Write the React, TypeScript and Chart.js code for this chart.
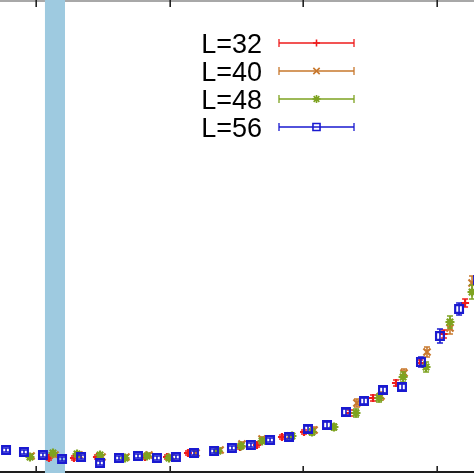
import React, { useEffect, useRef } from 'react';
import { Chart, registerables } from 'chart.js';

Chart.register(...registerables);

// ---- data ----
const seriesLabels = ['L=32', 'L=40', 'L=48', 'L=56'];
const seriesColors = ['#ee1c1c', '#c8782d', '#7ea320', '#1a1ad0'];

const xL32 = [0.097, 0.284, 0.456, 0.815, 0.98, 1.137, 1.526, 1.653, 1.84, 2.005, 2.349, 2.521, 2.693, 2.873, 3.052, 3.21];
const yL32 = [0.14, 0.14, 0.15, 0.15, 0.15, 0.19, 0.25, 0.27, 0.35, 0.4, 0.59, 0.74, 0.89, 1.09, 1.38, 1.69];
const eL32 = [0.02, 0.02, 0.02, 0.02, 0.02, 0.02, 0.02, 0.02, 0.02, 0.02, 0.03, 0.03, 0.03, 0.03, 0.04, 0.04];

const xL40 = [-0.037, 0.142, 0.322, 0.494, 0.673, 0.845, 1.01, 1.197, 1.377, 1.541, 1.691, 1.9, 2.08, 2.401, 2.581, 2.753, 2.925, 3.097, 3.262];
const yL40 = [0.16, 0.17, 0.17, 0.15, 0.15, 0.17, 0.15, 0.19, 0.22, 0.28, 0.33, 0.36, 0.42, 0.69, 0.76, 0.99, 1.2, 1.44, 1.89];
const eL40 = [0.02, 0.02, 0.02, 0.02, 0.02, 0.02, 0.02, 0.02, 0.02, 0.02, 0.02, 0.02, 0.03, 0.04, 0.04, 0.04, 0.05, 0.06, 0.07];

const xL48 = [-0.045, 0.127, 0.307, 0.479, 0.666, 0.83, 0.995, 1.362, 1.534, 1.691, 1.915, 2.065, 2.229, 2.394, 2.566, 2.746, 2.918, 3.097, 3.262];
const yL48 = [0.15, 0.19, 0.18, 0.17, 0.14, 0.16, 0.14, 0.21, 0.26, 0.31, 0.36, 0.4, 0.45, 0.59, 0.74, 0.95, 1.05, 1.5, 1.8];
const eL48 = [0.02, 0.02, 0.02, 0.02, 0.02, 0.02, 0.02, 0.02, 0.02, 0.02, 0.02, 0.03, 0.03, 0.04, 0.04, 0.05, 0.05, 0.06, 0.07];

const xL56 = [-0.224, -0.09, 0.052, 0.195, 0.337, 0.479, 0.621, 0.763, 0.905, 1.047, 1.182, 1.332, 1.466, 1.608, 1.751, 1.893, 2.035, 2.177, 2.319, 2.454, 2.596, 2.738, 2.88, 3.022, 3.165, 3.307];
const yL56 = [0.22, 0.2, 0.17, 0.13, 0.15, 0.09, 0.14, 0.16, 0.14, 0.15, 0.19, 0.21, 0.24, 0.27, 0.32, 0.35, 0.43, 0.47, 0.6, 0.71, 0.82, 0.85, 1.1, 1.36, 1.63, 1.92];
const eL56 = [0.02, 0.02, 0.02, 0.02, 0.02, 0.02, 0.02, 0.02, 0.02, 0.02, 0.02, 0.02, 0.02, 0.02, 0.02, 0.02, 0.03, 0.03, 0.03, 0.03, 0.03, 0.03, 0.05, 0.07, 0.06, 0.08];

const xTicks = [0, 1, 2, 3];
const bandRange = [0.067, 0.217];

const xMin = -0.2693;
const xMax = 3.2767;
const yMin = 0;
const yMax = 4.71;

const pointStyles = ['cross', 'crossRot', 'star', 'rect'];
const pointRadii = [4, 5, 4.5, 5.5];
const legendRadii = [3.5, 4.5, 4, 5];

function drawMarker(ctx: CanvasRenderingContext2D, style: string, x: number, y: number, r: number) {
  ctx.beginPath();
  if (style === 'cross' || style === 'star') {
    ctx.moveTo(x - r, y); ctx.lineTo(x + r, y);
    ctx.moveTo(x, y - r); ctx.lineTo(x, y + r);
  }
  if (style === 'crossRot' || style === 'star') {
    const o = r * Math.SQRT1_2;
    ctx.moveTo(x - o, y - o); ctx.lineTo(x + o, y + o);
    ctx.moveTo(x - o, y + o); ctx.lineTo(x + o, y - o);
  }
  if (style === 'rect') {
    const s = r * Math.SQRT1_2;
    ctx.rect(x - s, y - s, 2 * s, 2 * s);
  }
  ctx.stroke();
}

const framePlugin = {
  id: 'frame',
  beforeDatasetsDraw(chart: any) {
    const { ctx, chartArea, width } = chart;
    const xs = chart.scales.x;
    ctx.save();
    // borders
    ctx.fillStyle = '#a8a8a8';
    ctx.fillRect(0, 0, width, 2);
    ctx.fillStyle = '#1e1e1e';
    ctx.fillRect(0, chartArea.bottom - 1, width, 2);
    // ticks (inward, mirrored)
    ctx.strokeStyle = '#222';
    ctx.lineWidth = 1.6;
    xTicks.forEach((t) => {
      const px = Math.round(xs.getPixelForValue(t)) + 0.2;
      ctx.beginPath();
      ctx.moveTo(px, chartArea.bottom);
      ctx.lineTo(px, chartArea.bottom - 6);
      ctx.moveTo(px, 0);
      ctx.lineTo(px, chartArea.top + 6);
      ctx.stroke();
    });
    // band
    const b0 = xs.getPixelForValue(bandRange[0]);
    const b1 = xs.getPixelForValue(bandRange[1]);
    ctx.fillStyle = '#9ecae0';
    ctx.fillRect(b0, 0, b1 - b0, chartArea.bottom + 1);
    ctx.restore();
  },
};

const errorBarPlugin = {
  id: 'errbars',
  afterDatasetDraw(chart: any, args: any) {
    const ds = chart.data.datasets[args.index];
    const errs: number[] | undefined = ds.errors;
    if (!errs) return;
    const { ctx, chartArea } = chart;
    const xs = chart.scales.x;
    const ys = chart.scales.y;
    ctx.save();
    ctx.beginPath();
    ctx.rect(chartArea.left, chartArea.top, chartArea.right - chartArea.left, chartArea.bottom - chartArea.top);
    ctx.clip();
    ctx.strokeStyle = ds.borderColor;
    ctx.lineWidth = 1.6;
    ds.data.forEach((p: any, i: number) => {
      const px = xs.getPixelForValue(p.x);
      const y1 = ys.getPixelForValue(p.y - errs[i]);
      const y2 = ys.getPixelForValue(p.y + errs[i]);
      ctx.beginPath();
      ctx.moveTo(px, y1); ctx.lineTo(px, y2);
      ctx.moveTo(px - 3, y1); ctx.lineTo(px + 3, y1);
      ctx.moveTo(px - 3, y2); ctx.lineTo(px + 3, y2);
      ctx.stroke();
    });
    ctx.restore();
  },
};

const legendPlugin = {
  id: 'gpLegend',
  afterDraw(chart: any) {
    const { ctx } = chart;
    ctx.save();
    const rows = [43, 71, 99, 127];
    seriesLabels.forEach((label, i) => {
      const y = rows[i];
      ctx.fillStyle = '#000';
      ctx.font = '27px "Liberation Sans", Arial, sans-serif';
      ctx.textAlign = 'right';
      ctx.textBaseline = 'alphabetic';
      ctx.fillText(label, 262, y + 10);
      ctx.strokeStyle = seriesColors[i];
      ctx.lineWidth = 1.3;
      ctx.beginPath();
      ctx.moveTo(279, y); ctx.lineTo(354, y);
      ctx.moveTo(279, y - 4); ctx.lineTo(279, y + 4);
      ctx.moveTo(354, y - 4); ctx.lineTo(354, y + 4);
      ctx.stroke();
      ctx.lineWidth = 1.6;
      drawMarker(ctx, pointStyles[i], 316.5, y, legendRadii[i]);
    });
    ctx.restore();
  },
};

function makeData(xs: number[], ys: number[]) {
  return xs.map((x, i) => ({ x, y: ys[i] }));
}

export default function App() {
  const ref = useRef<HTMLCanvasElement | null>(null);
  useEffect(() => {
    document.body.style.margin = '0';
    if (!ref.current) return;
    const xsAll = [xL32, xL40, xL48, xL56];
    const ysAll = [yL32, yL40, yL48, yL56];
    const esAll = [eL32, eL40, eL48, eL56];
    const orders = [4, 3, 2, 1];
    const datasets: any[] = seriesLabels.map((label, i) => ({
      label,
      data: makeData(xsAll[i], ysAll[i]),
      errors: esAll[i],
      borderColor: seriesColors[i],
      backgroundColor: 'rgba(0,0,0,0)',
      pointBackgroundColor: 'rgba(0,0,0,0)',
      pointBorderColor: seriesColors[i],
      pointBorderWidth: 2.2,
      pointStyle: pointStyles[i],
      pointRadius: pointRadii[i],
      showLine: false,
      order: orders[i],
    }));
    const chart = new Chart(ref.current, {
      type: 'scatter',
      data: { datasets },
      options: {
        animation: false,
        responsive: false,
        events: [],
        layout: { autoPadding: false, padding: { top: 1, bottom: 2, left: 0, right: 0 } },
        plugins: { legend: { display: false }, tooltip: { enabled: false } },
        scales: {
          x: { type: 'linear', min: xMin, max: xMax, display: false },
          y: { type: 'linear', min: yMin, max: yMax, display: false },
        },
      },
      plugins: [framePlugin, errorBarPlugin, legendPlugin],
    });
    return () => chart.destroy();
  }, []);
  return (
    <div style={{ width: 474, height: 474, background: '#fff' }}>
      <canvas ref={ref} width={474} height={474} style={{ display: 'block' }} />
    </div>
  );
}
